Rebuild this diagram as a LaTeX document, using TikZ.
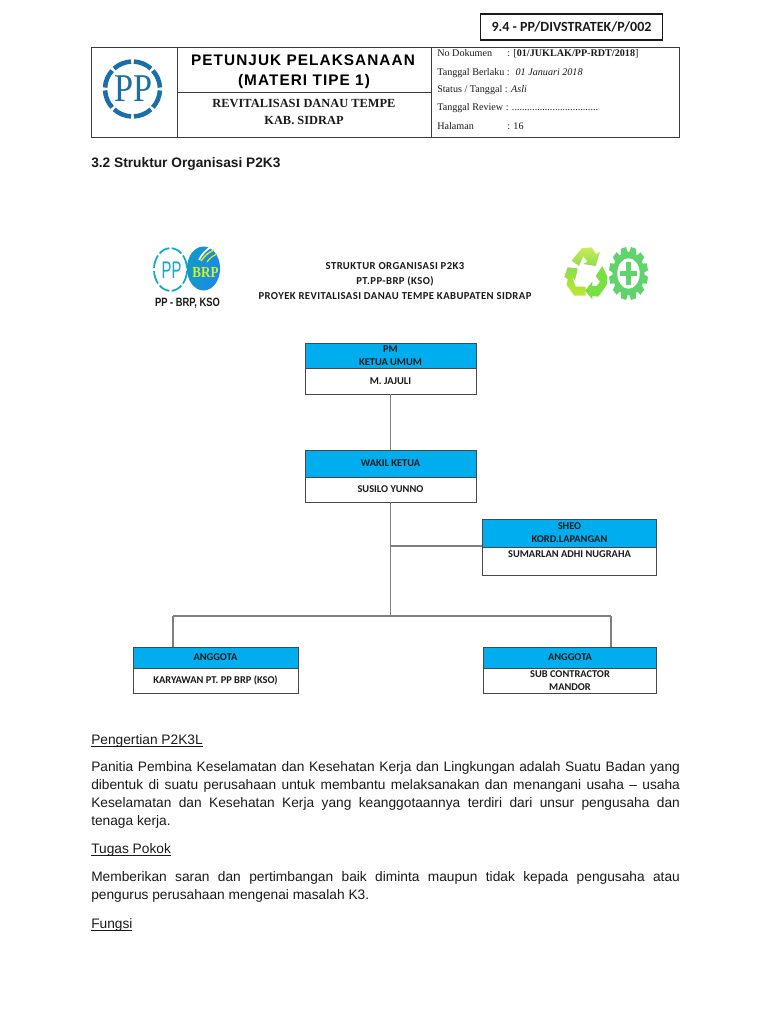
\documentclass[tikz,border=0pt]{standalone}
\usepackage{fontspec}
\setmainfont{Liberation Serif}
\newfontfamily\arial{Liberation Sans}
\newfontfamily\hdrfont[LetterSpace=7]{Liberation Sans}
\newfontfamily\carl{Carlito}
\newfontfamily\carlw[LetterSpace=4]{Carlito}
\usetikzlibrary{calc}
\definecolor{headblue}{HTML}{00AEEF}
\definecolor{ppblue}{HTML}{1B6FA8}
\definecolor{gearg}{HTML}{5FD46C}
\definecolor{recyg}{HTML}{8EDB4E}
\definecolor{linegray}{HTML}{7F7F7F}
\definecolor{ink}{HTML}{1A1A1A}
\newcommand{\ulx}[1]{\underline{\smash{#1}}}
\tikzset{
 x=0.75pt,y=-0.75pt,
 frameline/.style={draw=ink!85,line width=0.65pt},
 headbox/.style={draw=ink!80,line width=0.7pt,fill=headblue,inner sep=0pt,align=center,font=\carl\bfseries\fontsize{7.8}{9.6}\selectfont,text=ink},
 bodybox/.style={draw=ink!80,line width=0.7pt,fill=white,inner sep=0pt,align=center,font=\carl\bfseries\fontsize{7.8}{9.6}\selectfont,text=ink},
 conn/.style={draw=linegray,line width=0.8pt},
 meta/.style={anchor=base west,inner sep=0pt,font=\fontsize{7.6}{9}\selectfont,text=ink},
 chart/.style={inner sep=0pt,font=\carlw\bfseries\fontsize{8}{10}\selectfont,text=ink,anchor=base},
 bodytxt/.style={anchor=north west,inner sep=0pt,text width=441.5pt,align=justify,font=\arial\fontsize{10.3}{13.35}\selectfont,text=ink},
 lbl/.style={anchor=base west,inner sep=0pt,font=\arial\fontsize{10.3}{13}\selectfont,text=ink},
}
\begin{document}
\begin{tikzpicture}
\useasboundingbox (0,0) rectangle (768,1024);
\fill[white] (0,0) rectangle (768,1024);
% code box
\node[draw=ink,line width=0.8pt,minimum width=136pt,minimum height=19.5pt,inner sep=0pt,font=\carl\bfseries\fontsize{10.5}{11}\selectfont,text=ink] (code) at (571.5,27) {9.4 - PP/DIVSTRATEK/P/002};
% header table
\node[frameline,minimum width=441pt,minimum height=67.5pt,inner sep=0pt] (frame) at (385,92) {};
\coordinate (d1t) at (177.5,47); \coordinate (d1b) at (177.5,137);
\coordinate (d2t) at (431,47); \coordinate (d2b) at (431,137);
\coordinate (hl) at (177.5,92); \coordinate (hr) at (431,92);
\draw[frameline] (d1t) -- (d1b) (d2t) -- (d2b) (hl) -- (hr);
% PP logo
\foreach \a in {0,45,...,315}{
  \draw[ppblue,line width=3.4pt] ($(132.5,89)+(\a+3:20.6pt)$) arc[start angle=\a+3,end angle=\a+42,radius=20.6pt];
}
\node[inner sep=0pt,text=ppblue,font=\fontsize{29.5}{30}\selectfont] (pplogo) at (133.5,89) {\scalebox{0.87}[1]{PP}};
% header texts
\node[inner sep=0pt,font=\hdrfont\bfseries\fontsize{11.5}{13}\selectfont,text=black,anchor=base] (t1) at (303,65) {PETUNJUK PELAKSANAAN};
\node[inner sep=0pt,font=\hdrfont\bfseries\fontsize{11.5}{13}\selectfont,text=black,anchor=base] (t2) at (304,85) {(MATERI TIPE 1)};
\node[inner sep=0pt,font=\bfseries\fontsize{9.3}{12}\selectfont,text=ink,anchor=base] (t3) at (304,108) {REVITALISASI DANAU TEMPE};
\node[inner sep=0pt,font=\bfseries\fontsize{9.3}{12}\selectfont,text=ink,anchor=base] (t4) at (304,124) {KAB. SIDRAP};
% meta
\node[meta] (m1) at (437,57) {No Dokumen};
\node[meta] (m1b) at (507,57) {: [\textbf{01/JUKLAK/PP-RDT/2018}]};
\node[meta] (m2) at (437,75) {Tanggal Berlaku : \ \textit{01 Januari 2018}};
\node[meta] (m3) at (437,93) {Status / Tanggal : \textit{Asli}};
\node[meta] (m4) at (437,110) {Tanggal Review : ..................................};
\node[meta] (m5) at (437,129) {Halaman};
\node[meta] (m5b) at (507,129) {: 16};
% heading
\node[anchor=base west,inner sep=0pt,font=\arial\bfseries\fontsize{10.3}{13}\selectfont,text=ink] (h32) at (91,167) {3.2 Struktur Organisasi P2K3};
% chart logos
\foreach \a in {0,45,...,315}{
  \draw[ppblue!60!cyan,line width=1.3pt] ($(170.5,269.5)+(\a+4:12.4pt and 16pt)$) arc[start angle=\a+4,end angle=\a+41,x radius=12.4pt,y radius=16pt];
}
\node[inner sep=0pt,text=ppblue!60!cyan,font=\arial\fontsize{18}{18}\selectfont] (pp2) at (171.5,270) {\scalebox{0.62}[1]{PP}};
\shade[left color=ppblue!70!cyan,right color=headblue!70!blue!90] (203.5,268.5) ellipse[x radius=12.4pt,y radius=16.5pt];
\draw[white,line width=1.3pt] (199,260) to[bend left=15] (211,247);
\draw[yellow!90!green,line width=1.1pt] (201,261) to[bend left=15] (214,250);
\draw[yellow!90!green,line width=0.9pt] (207,262) to[bend left=15] (217,254);
\node[inner sep=0pt,text=recyg!40!yellow,font=\bfseries\fontsize{11.5}{12}\selectfont] (brp) at (205.5,272) {\scalebox{0.85}[1]{BRP}};
\node[inner sep=0pt,text=ink,font=\arial\bfseries\fontsize{9}{9}\selectfont,anchor=base] (pplab) at (187.5,306) {\scalebox{0.78}[1]{PP - BRP, KSO}};
% recycle
\begin{scope}[shift={(555,240)},x=0.25pt,y=-0.25pt]
\shade[top color=recyg!60!yellow!80,bottom color=recyg] (50,62) -- (80,25) -- (110,22) -- (123,42) -- (135,35) -- (122,78) -- (85,72) -- (97,65) -- (85,48) -- (72,78) -- cycle;
\shade[top color=recyg,bottom color=recyg!60!yellow] (28,110) -- (38,82) -- (68,85) -- (60,122) -- (52,112) -- (62,140) -- (92,140) -- (92,167) -- (58,167) -- (35,135) -- (38,118) -- cycle;
\shade[top color=recyg!85!green,bottom color=recyg!85!green] (122,108) -- (142,78) -- (157,110) -- (155,135) -- (130,170) -- (112,168) -- (112,178) -- (90,152) -- (112,125) -- (112,138) -- (125,138) -- (135,125) -- cycle;
\end{scope}
% gear
\begin{scope}[shift={(628.5,273.5)},yscale=1.36]
\foreach \a in {15,45,...,345}{
  \fill[gearg,rotate=\a] (-2.6,-19.5) -- (2.6,-19.5) -- (3.6,-14) -- (-3.6,-14) -- cycle;
}
\fill[gearg] (0,0) circle[radius=12pt];
\fill[white] (0,0) circle[radius=8.4pt];
\fill[gearg] (-2.2,-8.8) rectangle (2.2,8.8);
\fill[gearg] (-8.8,-2.2) rectangle (8.8,2.2);
\end{scope}
% chart title
\node[chart] (c1) at (395,269) {STRUKTUR ORGANISASI P2K3};
\node[chart] (c2) at (395,284) {PT.PP-BRP (KSO)};
\node[chart] (c3) at (395,299) {PROYEK REVITALISASI DANAU TEMPE KABUPATEN SIDRAP};
% boxes
\node[headbox,minimum width=128.25pt,minimum height=18.75pt] (pmh) at (390.5,355.5) {PM\\KETUA UMUM};
\node[bodybox,minimum width=128.25pt,minimum height=19.5pt] (pmb) at (390.5,381) {M. JAJULI};
\node[headbox,minimum width=128.25pt,minimum height=20.25pt] (wkh) at (390.5,463.5) {WAKIL KETUA};
\node[bodybox,minimum width=128.25pt,minimum height=18.75pt] (wkb) at (390.5,489.5) {SUSILO YUNNO};
\node[headbox,minimum width=130pt,minimum height=21pt] (shh) at (569.5,533) {SHEO\\KORD.LAPANGAN};
\node[bodybox,minimum width=130pt,minimum height=21pt,text depth=12.5pt,text height=7.5pt] (shb) at (569.5,561) {SUMARLAN ADHI NUGRAHA};
\node[headbox,minimum width=123.75pt,minimum height=15.75pt] (alh) at (215.5,657.5) {ANGGOTA};
\node[bodybox,minimum width=123.75pt,minimum height=18.75pt] (alb) at (215.5,680.5) {KARYAWAN PT. PP BRP (KSO)};
\node[headbox,minimum width=130pt,minimum height=15.75pt] (arh) at (570,657.5) {ANGGOTA};
\node[bodybox,minimum width=130pt,minimum height=18.75pt] (arb) at (570,680.5) {SUB CONTRACTOR\\MANDOR};
% connectors
\coordinate (j1) at (wkb.south |- 0,546);
\coordinate (j2) at (wkb.south |- 0,616);
\coordinate (jl) at (173,616);
\coordinate (jr) at (611,616);
\draw[conn] (pmb.south) -- (wkh.north);
\draw[conn] (wkb.south) -- (j2);
\draw[conn] (j1) -- (j1 -| shh.west);
\draw[conn] (jl) -- (jr);
\draw[conn] (jl) -- (jl |- alh.north);
\draw[conn] (jr) -- (jr |- arh.north);
% body text
\node[lbl] (p1) at (91,744) {\ulx{Pengertian P2K3L}};
\node[bodytxt] (p2) at (91,761.5) {Panitia Pembina Keselamatan dan Kesehatan Kerja dan Lingkungan adalah Suatu Badan yang\linebreak dibentuk di suatu perusahaan untuk membantu melaksanakan dan menangani usaha – usaha\linebreak Keselamatan dan Kesehatan Kerja yang keanggotaannya terdiri dari unsur pengusaha dan\linebreak tenaga kerja.};
\node[lbl] (p3) at (91,853) {\ulx{Tugas Pokok}};
\node[bodytxt] (p4) at (91,871) {Memberikan saran dan pertimbangan baik diminta maupun tidak kepada pengusaha atau\linebreak pengurus perusahaan mengenai masalah K3.};
\node[lbl] (p5) at (91,928) {\ulx{Fungsi}};
\end{tikzpicture}
\end{document}
